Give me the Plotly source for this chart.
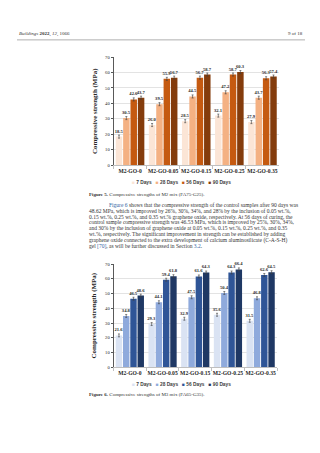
import plotly.graph_objects as go

W, H = 320, 453

categories = ["M2-GO-0", "M2-GO-0.05", "M2-GO-0.15", "M2-GO-0.25", "M2-GO-0.35"]
ages = ["7 Days", "28 Days", "56 Days", "90 Days"]

m2_7 = [18.5, 26.0, 28.5, 32.1, 27.9]
m2_28 = [30.5, 39.5, 44.5, 47.2, 43.7]
m2_56 = [42.6, 55.9, 56.7, 58.7, 56.3]
m2_90 = [43.7, 56.7, 58.7, 60.3, 57.4]

m3_7 = [21.6, 29.3, 32.9, 35.6, 31.5]
m3_28 = [34.8, 44.1, 47.5, 50.4, 46.8]
m3_56 = [46.5, 59.4, 61.6, 64.3, 62.6]
m3_90 = [48.6, 61.8, 64.3, 66.4, 64.5]

err = [1.0, 1.0, 1.0, 1.0, 1.0]

yticks = [0, 10, 20, 30, 40, 50, 60, 70]

colors_m2 = ["#FBE5D6", "#F4B183", "#C55A11", "#843C0C"]
colors_m3 = ["#DAE3F3", "#8FAADC", "#2F5597", "#1F3864"]

para = [
    "<span style='color:#3465a4'>Figure 6</span> shows that the compressive strength of the control samples after 90 days was",
    "48.62 MPa, which is improved by 26%, 30%, 34%, and 28% by the inclusion of 0.05 wt.%,",
    "0.15 wt.%, 0.25 wt.%, and 0.35 wt.% graphene oxide, respectively. At 56 days of curing, the",
    "control sample compressive strength was 46.53 MPa, which is improved by 25%, 30%, 34%,",
    "and 30% by the inclusion of graphene oxide at 0.05 wt.%, 0.15 wt.%, 0.25 wt.%, and 0.35",
    "wt.%, respectively. The significant improvement in strength can be established by adding",
    "graphene oxide connected to the extra development of calcium aluminosilicate (C-A-S-H)",
    "gel <span style='color:#3465a4'>[70]</span>, as will be further discussed in Section <span style='color:#3465a4'>3.2</span>.",
]


def px(xp):
    return xp / W


def py(yp):
    return 1 - yp / H


SERIF = "Liberation Serif"
INK = "#262626"

fig = go.Figure()

for series, cols, xa, ya in [
    ([m2_7, m2_28, m2_56, m2_90], colors_m2, "x", "y"),
    ([m3_7, m3_28, m3_56, m3_90], colors_m3, "x2", "y2"),
]:
    for name, vals, c in zip(ages, series, cols):
        fig.add_trace(go.Bar(
            x=categories, y=vals, name=name, xaxis=xa, yaxis=ya,
            marker=dict(color=c, line=dict(width=0)),
            error_y=dict(type="data", array=err, color="#404040", thickness=0.6, width=1),
            text=[f"<b>{v:.1f}</b>" for v in vals],
            textposition="outside", constraintext="none", cliponaxis=False,
            textfont=dict(family=SERIF, size=4.6, color=INK),
            showlegend=False,
        ))

common_x = dict(
    type="category", showgrid=False, showline=True, linecolor="#BFBFBF", linewidth=0.8,
    ticks="outside", tickson="boundaries", ticklen=3, tickcolor="#BFBFBF", tickangle=0,
    tickfont=dict(family=SERIF, size=5.6, color=INK), fixedrange=True,
)
common_y = dict(
    range=[0, 70], tickvals=yticks, showgrid=True, gridcolor="#E3E3E3", gridwidth=0.6,
    showline=True, linecolor="#595959", linewidth=0.8, ticks="outside", ticklen=2,
    tickcolor="#595959", tickfont=dict(family=SERIF, size=4.6, color=INK),
    zeroline=False, fixedrange=True,
)

fig.update_layout(
    width=W, height=H, margin=dict(l=0, r=0, t=0, b=0),
    paper_bgcolor="white", plot_bgcolor="white",
    barmode="group", bargap=0.11, bargroupgap=0.12, showlegend=False,
    xaxis=dict(domain=[px(113.5), px(279)], anchor="y", **common_x),
    yaxis=dict(domain=[py(165), py(55.7)], anchor="x", **common_y),
    xaxis2=dict(domain=[px(113.5), px(277)], anchor="y2", **common_x),
    yaxis2=dict(domain=[py(369.3), py(265)], anchor="x2", **common_y),
)
fig.update_xaxes(tickprefix="<b>", ticksuffix="</b>")
fig.update_yaxes(tickprefix="<b>", ticksuffix="</b>")

ann = []
# header
ann.append(dict(x=px(17), y=py(32), xref="paper", yref="paper", xanchor="left", yanchor="middle",
                text="<i>Buildings</i> <b>2022</b>, <i>12</i>, 1066", showarrow=False,
                font=dict(family=SERIF, size=5, color="#333")))
ann.append(dict(x=px(305), y=py(32), xref="paper", yref="paper", xanchor="right", yanchor="middle",
                text="9 of 18", showarrow=False, font=dict(family=SERIF, size=5, color="#333")))

# y titles
for xc, yc in [(95, 110.3), (94, 317)]:
    ann.append(dict(x=px(xc), y=py(yc), xref="paper", yref="paper", xanchor="center", yanchor="middle",
                    text="<b>Compressive strength (MPa)</b>", textangle=-90, showarrow=False,
                    font=dict(family=SERIF, size=7, color=INK)))

# legends
for cols, yl in [(colors_m2, 183), (colors_m3, 387)]:
    parts = [f"<span style='color:{c}'>■</span> {a}" for c, a in zip(cols, ages)]
    ann.append(dict(x=px(181), y=py(yl), xref="paper", yref="paper", xanchor="center", yanchor="middle",
                    text="<b>" + "   ".join(parts) + "</b>", showarrow=False,
                    font=dict(family="Liberation Sans", size=4.8, color="#404040")))

# captions
for txt, yc in [("<b>Figure 5.</b> Compressive strengths of M2 mix (FA75-G25).", 195),
                ("<b>Figure 6.</b> Compressive strengths of M3 mix (FA65-G35).", 397.3)]:
    ann.append(dict(x=px(86.7), y=py(yc), xref="paper", yref="paper", xanchor="left", yanchor="middle",
                    text=txt, showarrow=False, font=dict(family=SERIF, size=5, color="#333")))

# paragraph
for i, line in enumerate(para):
    x0 = 106.7 if i == 0 else 86.7
    ann.append(dict(x=px(x0), y=py(205 + i * 5.95), xref="paper", yref="paper", xanchor="left",
                    yanchor="middle", text=line, showarrow=False,
                    font=dict(family=SERIF, size=5.5, color="#333")))

fig.update_layout(annotations=ann, shapes=[
    dict(type="line", xref="paper", yref="paper", x0=px(17), x1=px(305), y0=py(38.3), y1=py(38.3),
         line=dict(color="#9a9a9a", width=0.8)),
])

fig.write_html("out.html")
